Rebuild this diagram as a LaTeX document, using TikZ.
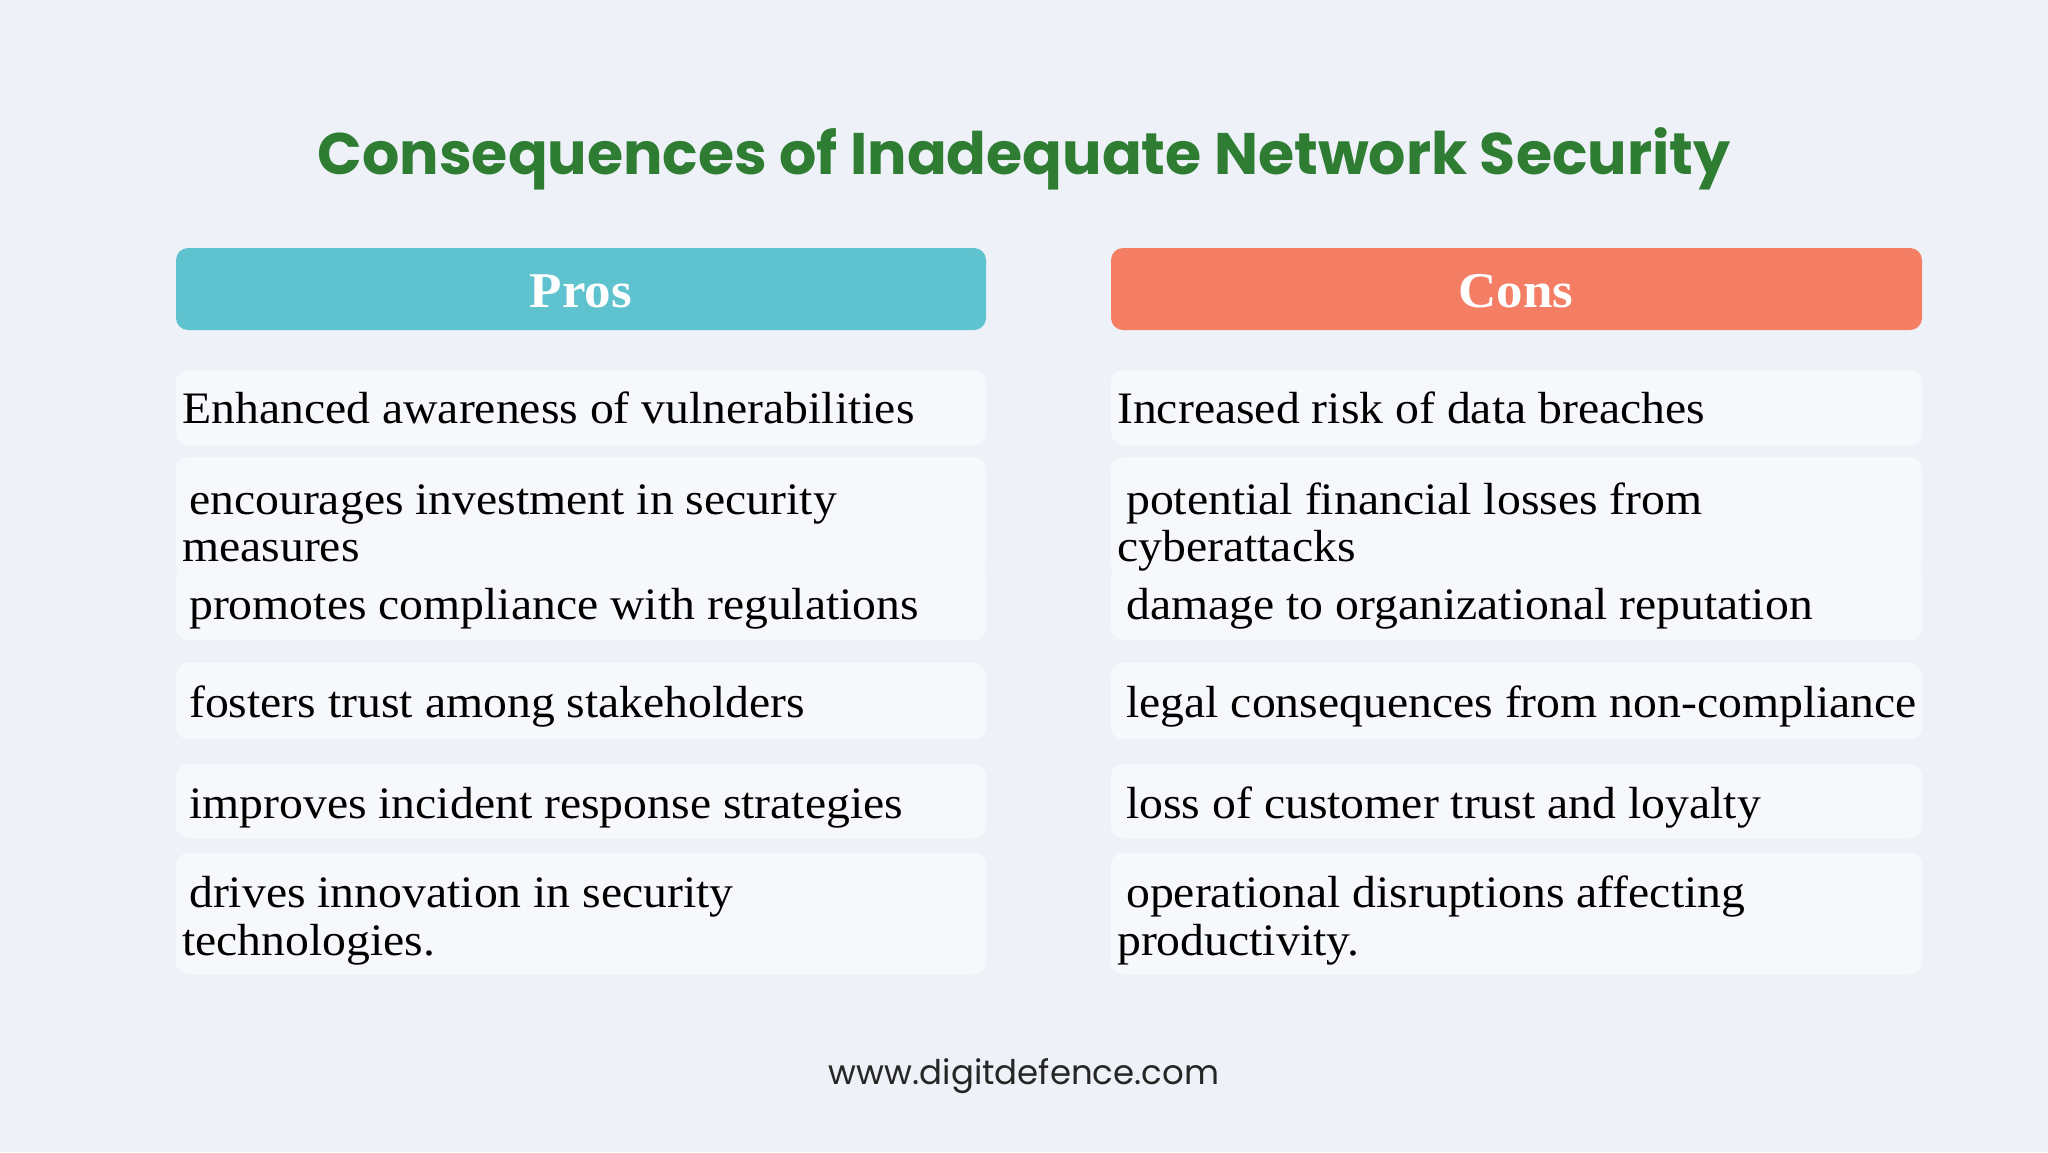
\documentclass[tikz,border=0pt]{standalone}
\usepackage{fontspec}
\setmainfont{Liberation Serif}[FakeStretch=1.06]
\newfontfamily\pop{Poppins}
\definecolor{bg}{HTML}{EEF2F8}
\definecolor{rowc}{HTML}{F6F8FB}
\definecolor{tgreen}{HTML}{2E7D32}
\definecolor{procol}{HTML}{5EC3CF}
\definecolor{concol}{HTML}{F47E63}
\begin{document}
\begin{tikzpicture}[x=1pt,y=1pt,
  hdr/.style={rounded corners=12pt},
  rowbox/.style={fill=rowc,rounded corners=12pt},
  txt/.style={anchor=base west,inner sep=0pt,font=\fontsize{45}{50}\selectfont}]
\fill[bg] (0,0) rectangle (2048,-1152);
\useasboundingbox (0,0) rectangle (2048,-1152);
\node (title) at (1024,-159) {\pop\bfseries\fontsize{58.6}{70}\selectfont\color{tgreen}Consequences of Inadequate Network Security};
\fill[procol,hdr] (176,-248) rectangle (986,-330);
\fill[concol,hdr] (1111,-248) rectangle (1922,-330);
\node (pros) at (581,-291) {\bfseries\fontsize{50}{50}\selectfont\color{white}Pros};
\node (cons) at (1516,-291) {\bfseries\fontsize{50}{50}\selectfont\color{white}Cons};
\foreach \xa/\xb in {176/986,1111/1922}{
  \fill[rowbox] (\xa,-370) rectangle (\xb,-445);
  \fill[rowbox] (\xa,-457) rectangle (\xb,-575);
  \fill[rowbox] (\xa,-565) rectangle (\xb,-640);
  \fill[rowbox] (\xa,-663) rectangle (\xb,-739);
  \fill[rowbox] (\xa,-764) rectangle (\xb,-838);
  \fill[rowbox] (\xa,-853) rectangle (\xb,-974);
}
\node[txt] (p1) at (182,-423) {Enhanced awareness of vulnerabilities};
\node[txt] (p2) at (189,-514) {encourages investment in security};
\node[txt] (p2b) at (182,-561) {measures};
\node[txt] (p3) at (189,-619) {promotes compliance with regulations};
\node[txt] (p4) at (189,-717) {fosters trust among stakeholders};
\node[txt] (p5) at (189,-818) {improves incident response strategies};
\node[txt] (p6) at (189,-907) {drives innovation in security};
\node[txt] (p6b) at (182,-955) {technologies.};
\node[txt] (c1) at (1117,-423) {Increased risk of data breaches};
\node[txt] (c2) at (1126,-514) {potential financial losses from};
\node[txt] (c2b) at (1117,-561) {cyberattacks};
\node[txt] (c3) at (1126,-619) {damage to organizational reputation};
\node[txt] (c4) at (1126,-717) {legal consequences from non-compliance};
\node[txt] (c5) at (1126,-818) {loss of customer trust and loyalty};
\node[txt] (c6) at (1126,-907) {operational disruptions affecting};
\node[txt] (c6b) at (1117,-955) {productivity.};
\node (foot) at (1024,-1076) {\pop\fontsize{34}{40}\selectfont\color{black!85}www.digitdefence.com};
\end{tikzpicture}
\end{document}
